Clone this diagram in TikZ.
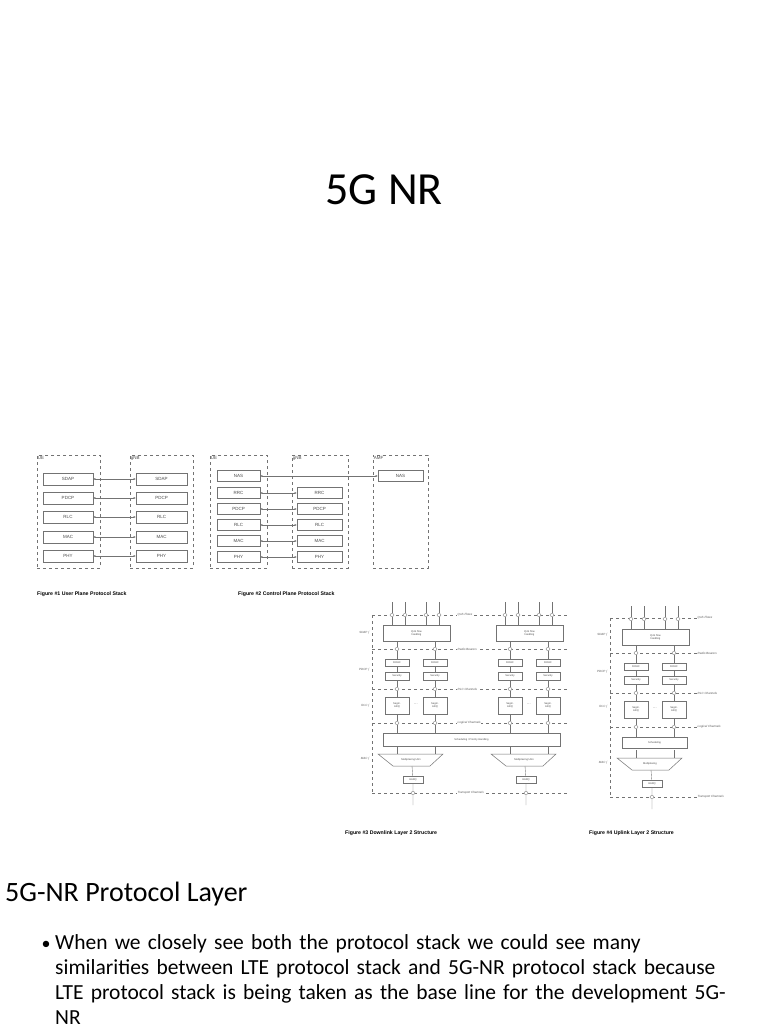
\documentclass[tikz,border=0pt]{standalone}
\usepackage{fontspec}
\setmainfont{Carlito}
\newfontfamily\fig{Liberation Sans}
\usetikzlibrary{arrows.meta}
\definecolor{ln}{gray}{0.45}
\tikzset{
  grp/.style={draw=ln,dashed,line width=0.5pt},
  lay/.style={draw=ln,line width=0.6pt,font=\fig\fontsize{4.5}{5}\selectfont,text=black!70},
  sbox/.style={draw=ln,line width=0.4pt,font=\fig\fontsize{2.6}{3}\selectfont,text=black!70,align=center,inner sep=0pt},
  lab/.style={font=\fig\itshape\fontsize{3}{3.5}\selectfont,text=black!65,anchor=west,inner sep=0.5pt},
  figcap/.style={font=\fig\bfseries\fontsize{5.2}{6}\selectfont,anchor=west,inner sep=0pt},
  tag/.style={font=\fig\fontsize{4.5}{5}\selectfont,text=black!70,anchor=north west,inner sep=1pt},
  con/.style={draw=ln,line width=0.6pt,{Latex[length=2pt,width=2pt]}-{Latex[length=2pt,width=2pt]}},
  ch/.style={draw=ln,line width=0.35pt},
  hl/.style={draw=ln,dashed,line width=0.35pt},
  oval/.style={draw=ln,line width=0.35pt,fill=white,ellipse,minimum width=4pt,minimum height=3pt,inner sep=0pt}
}
\usetikzlibrary{shapes.geometric}
\newcommand\halfstack[4]{% #1 shift x, #2 shift y, #3 prefix, #4 mux text
\begin{scope}[shift={(#1,#2)},name prefix=#3]
 \foreach \x/\n in {392/q1,405/q2,426/q3,439/q4}{
   \coordinate (\n t) at (\x,602);
   \node[oval] (\n o) at (\x,615) {};
   \draw[ch] (\n t) -- (\n o) -- (\x,625);}
 \node[sbox,minimum width=67pt,minimum height=16pt] (qos) at (416.5,633) {QoS flow\\handling};
 \foreach \x/\n in {397/a,435/b}{
   \node[oval] (\n r) at (\x,649) {};
   \node[sbox,minimum width=24.5pt,minimum height=7pt] (\n rohc) at (\x,662.5) {ROHC};
   \node[sbox,minimum width=24.5pt,minimum height=8pt] (\n sec) at (\x,676) {Security};
   \node[oval] (\n c) at (\x,689) {};
   \node[sbox,minimum width=24.5pt,minimum height=17pt] (\n seg) at (\x,705.5) {Segm.\\ARQ};
   \node[oval] (\n l) at (\x,723) {};
   \draw[ch] (\x,641) -- (\n r) -- (\n rohc) -- (\n sec) -- (\n c) -- (\n seg) -- (\n l) -- (\x,733);
   \draw[ch] (\x,746) -- (\x,754);}
 \node[font=\fig\fontsize{4}{4}\selectfont,text=black!60] (dots) at (416,704) {...};
 \draw[draw=ln,line width=0.5pt,fill=white] (378,754) -- (443,754) -- (430,766) -- (393,766) -- cycle;
 \node[sbox,draw=none] (mux) at (411,760) {#4};
 \node[sbox,minimum width=20pt,minimum height=7pt] (harq) at (413,779.5) {HARQ};
 \node[oval] (tr) at (413,793) {};
 \draw[ch] (412,766) -- (harq) -- (tr) -- (413,805);
\end{scope}}
\begin{document}
\begin{tikzpicture}[x=1pt,y=-1pt]
\useasboundingbox (0,0) rectangle (768,1024);
\fill[white] (0,0) rectangle (768,1024);
\node[font=\fontsize{46}{52}\selectfont] (title) at (384,190) {5G NR};
% Figure 1
\node[grp,minimum width=63pt,minimum height=113pt] (ue1) at (68.5,511.5) {};
\node[grp,minimum width=63pt,minimum height=113pt] (gnb1) at (161.5,511.5) {};
\node[tag] (ue1t) at (ue1.north west) {UE};
\node[tag] (gnb1t) at (gnb1.north west) {gNB};
\foreach \t/\y in {SDAP/479,PDCP/498,RLC/517,MAC/537,PHY/556}{
  \node[lay,minimum width=50pt,minimum height=12pt] (u\t) at (68,\y) {\t};
  \node[lay,minimum width=51pt,minimum height=12pt] (g\t) at (161.5,\y) {\t};
  \draw[con] (u\t) -- (g\t);}
\node[figcap] (cap1) at (37,594) {Figure \#1 User Plane Protocol Stack};
% Figure 2
\node[grp,minimum width=57pt,minimum height=113pt] (ue2) at (238.5,511.5) {};
\node[grp,minimum width=56pt,minimum height=113pt] (gnb2) at (320,511.5) {};
\node[grp,minimum width=55pt,minimum height=113pt] (amf) at (400.5,511.5) {};
\node[tag] (ue2t) at (ue2.north west) {UE};
\node[tag] (gnb2t) at (gnb2.north west) {gNB};
\node[tag] (amft) at (amf.north west) {AMF};
\node[lay,minimum width=43pt,minimum height=11pt] (vNAS) at (238.5,476) {NAS};
\node[lay,minimum width=45pt,minimum height=11pt] (aNAS) at (400.5,476) {NAS};
\draw[con] (vNAS) -- (aNAS);
\foreach \t/\y in {RRC/493,PDCP/509,RLC/525,MAC/541,PHY/557}{
  \node[lay,minimum width=43pt,minimum height=11pt] (v\t) at (238.5,\y) {\t};
  \node[lay,minimum width=45pt,minimum height=11pt] (w\t) at (319.5,\y) {\t};
  \draw[con] (v\t) -- (w\t);}
\node[figcap] (cap2) at (238,594) {Figure \#2 Control Plane Protocol Stack};
% Figure 3
\foreach \y in {615,649,689,723,793}{\draw[hl] (372,\y) -- (567,\y);}
\draw[hl] (372,615) -- (372,793);
\foreach \y/\t/\n in {615/QoS Flows/f,649/Radio Bearers/r,689/RLC Channels/c,723/Logical Channels/l,793/Transport Channels/t}{
  \node[lab,fill=white] (d3\n) at (457,\y) {\t};}
\foreach \y/\t/\n in {633/SDAP/s,670/PDCP/p,706/RLC/r,759/MAC/m}{
  \node[lab,anchor=east] (d3l\n) at (370,\y) {\t \ \{};}
\halfstack{0}{0}{dl-}{Multiplexing UE1}
\halfstack{113}{0}{dr-}{Multiplexing UEn}
\node[sbox,minimum width=177pt,minimum height=13pt] (sched) at (471.5,739.5) {Scheduling / Priority Handling};
\node[figcap] (cap3) at (345,833) {Figure \#3 Downlink Layer 2 Structure};
% Figure 4
\foreach \y in {618,653,693,727,797}{\draw[hl] (610,\y) -- (697,\y);}
\draw[hl] (610,618) -- (610,797);
\foreach \y/\t/\n in {618/QoS Flows/f,653/Radio Bearers/r,693/RLC Channels/c,727/Logical Channels/l,797/Transport Channels/t}{
  \node[lab] (d4\n) at (697,\y) {\t};}
\foreach \y/\t/\n in {635/SDAP/s,672/PDCP/p,707/RLC/r,763/MAC/m}{
  \node[lab,anchor=east] (d4l\n) at (608,\y) {\t \ \{};}
\halfstack{239}{4}{ul-}{Multiplexing}
\node[sbox,minimum width=65pt,minimum height=11pt] (sched4) at (654.5,742.5) {Scheduling};
\node[figcap] (cap4) at (589,833) {Figure \#4 Uplink Layer 2 Structure};
% text
\node[anchor=west,font=\fontsize{28}{32}\selectfont,inner sep=0pt] (h2) at (5,894) {5G-NR Protocol Layer};
\node[anchor=north west,font=\fontsize{21.5}{25}\selectfont,inner sep=0pt,text width=715pt,align=left] (body) at (55,934)
 {When we closely see both the protocol stack we could see many\\similarities between LTE protocol stack and 5G-NR protocol stack because\\LTE protocol stack is being taken as the base line for the development 5G-\\NR};
\node[font=\fontsize{18}{25}\selectfont,inner sep=0pt] (bul) at (46,945) {•};
\end{tikzpicture}
\end{document}
